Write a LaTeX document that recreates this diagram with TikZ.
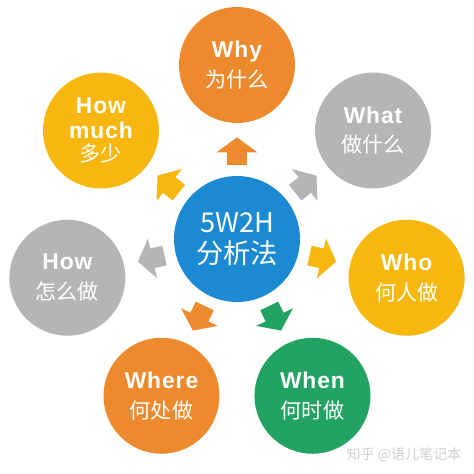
\documentclass[tikz,border=0pt]{standalone}
\usepackage{fontspec}
\setmainfont{Liberation Sans}
\newfontfamily\cjk{Noto Sans CJK SC}
\newfontfamily\enfont[LetterSpace=4]{Liberation Sans}
\usetikzlibrary{arrows.meta}

\definecolor{hubblue}{HTML}{1B8AD3}
\definecolor{whyorange}{HTML}{EE8A2E}
\definecolor{howyellow}{HTML}{F7B70F}
\definecolor{askgrey}{HTML}{B5B4B6}
\definecolor{whengreen}{HTML}{23A361}
\definecolor{markgrey}{HTML}{CFCFCF}

\newcommand{\zh}{\cjk\mdseries\fontsize{12}{15}\selectfont}

\begin{document}
\begin{tikzpicture}[
    x=0.02cm, y=0.02cm,
    hub/.style={
        circle,% Center circle
        fill=hubblue,
        text=white,
        minimum size=2.52cm,
        align=center,
        font=\cjk\fontsize{15.5}{19}\selectfont
    },
    ask/.style={circle, minimum size=2.32cm, text=white, align=center, inner sep=0pt,
        font=\enfont\bfseries\fontsize{13}{16}\selectfont},
    arrow/.style={line width=0.4cm, -{Triangle[length=0.3cm, width=0.8cm]}, shorten <=0.22cm, shorten >=0.28cm}
]
    \useasboundingbox (-237,-235) rectangle (237,239);

    % Nodes
    \node[hub] (hub) at (0,0) {5W2H\\[-1pt]分析法};

    \node[ask, fill=whyorange] (why) at (90:174) {Why\\[1pt]\zh 为什么};
    \node[ask, fill=askgrey] (what) at (38.57:174) {What\\[1pt]\zh 做什么};
    \node[ask, fill=howyellow] (who) at (-12.86:174) {Who\\[1pt]\zh 何人做};
    \node[ask, fill=whengreen] (when) at (-64.29:174) {When\\[1pt]\zh 何时做};
    \node[ask, fill=whyorange] (where) at (-115.71:174) {Where\\[1pt]\zh 何处做};
    \node[ask, fill=askgrey] (how) at (-167.14:174) {How\\[1pt]\zh 怎么做};
    \node[ask, fill=howyellow, font=\enfont\bfseries\fontsize{13}{14}\selectfont] (howmuch) at (141.43:174)
        {How\\much\\[-1pt]\zh 多少};

    \node[text=markgrey, font=\cjk\fontsize{8}{10}\selectfont] (mark) at (167,-216) {知乎 @语儿笔记本};

    % Connections
    \foreach \n/\c in {why/whyorange, what/askgrey, who/howyellow, when/whengreen,
                       where/whyorange, how/askgrey, howmuch/howyellow}
        \draw[arrow, \c] (hub) -- (\n);
\end{tikzpicture}
\end{document}
